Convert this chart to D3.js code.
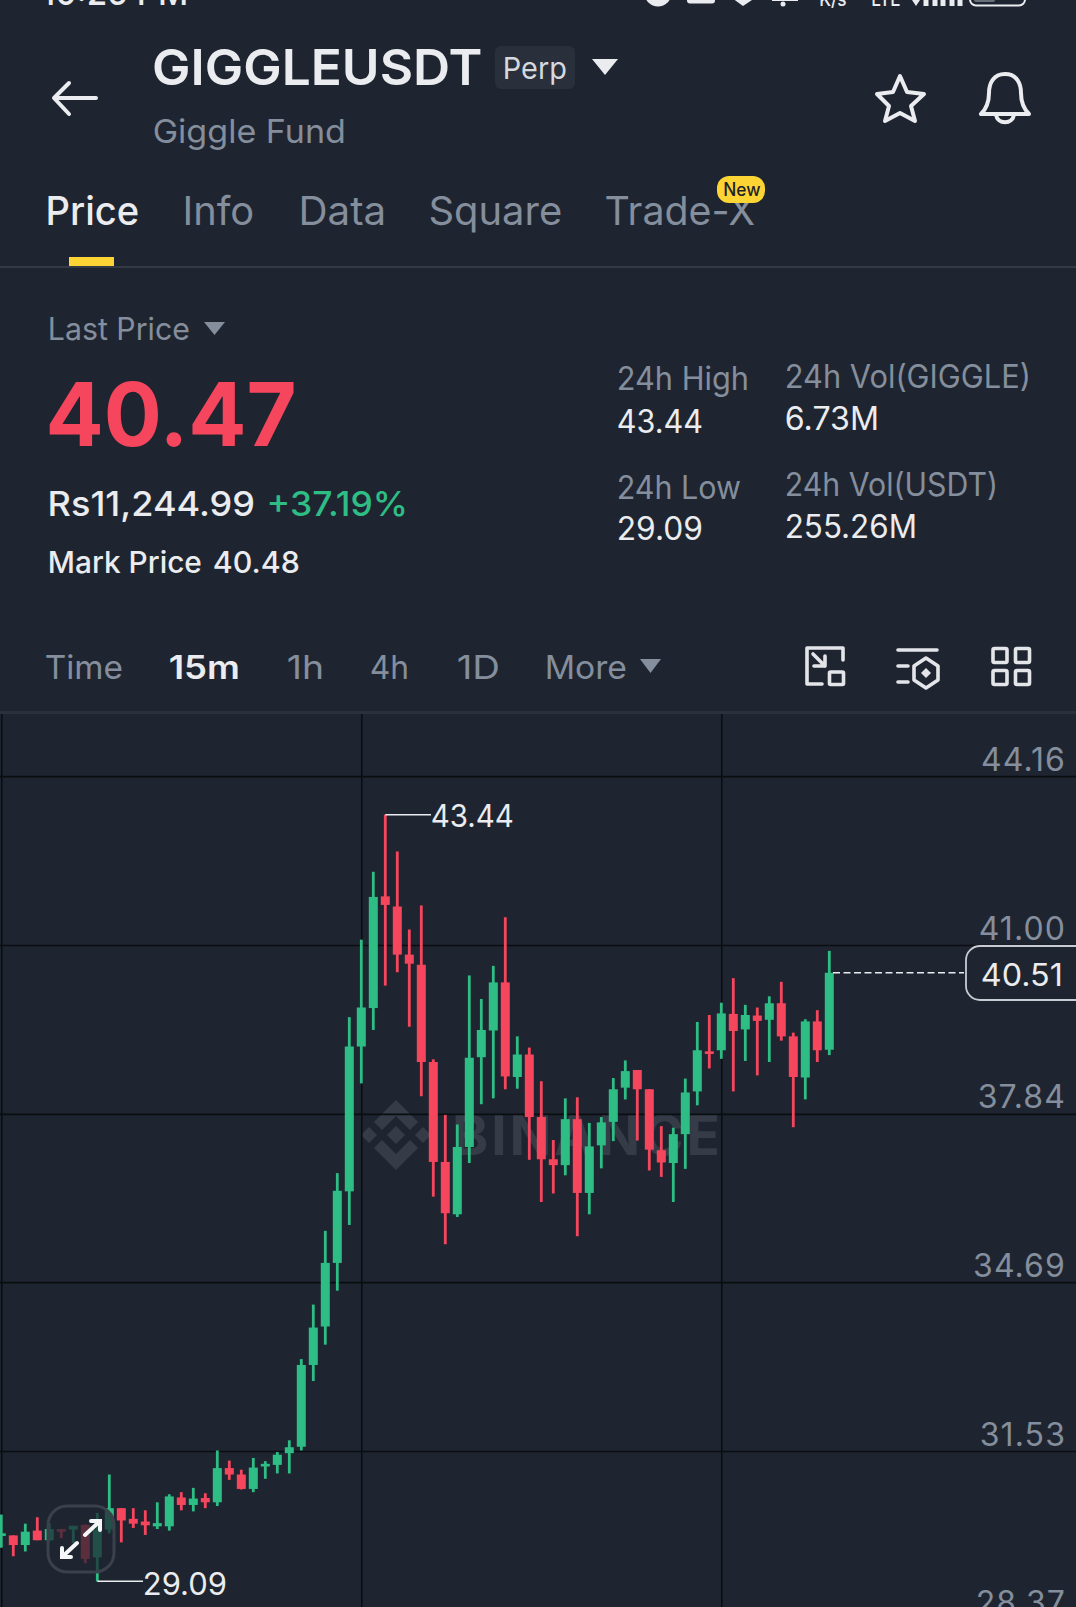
<!DOCTYPE html>
<html lang="en">
  <head>
    <meta charset="UTF-8" />
    <title>GIGGLEUSDT 15m</title>
    <script src="https://d3js.org/d3.v7.min.js"></script>
    <style>
      html, body { margin: 0; padding: 0; background: #1f2530; overflow: hidden; }
      svg { display: block; font-family: Inter, "Noto Sans", sans-serif; }
    </style>
  </head>
  <body>
    <script>
      // Candles, oldest first
      const opens = [29.94,29.95,29.77,30.04,29.86,30.07,30.06,30.15,29.54,30.06,30.46,30.26,30.21,30.12,30.12,30.66,30.52,30.65,30.57,31.21,31.09,30.82,31.24,31.27,31.49,31.61,33.14,33.86,35.05,36.39,39.10,39.82,41.91,41.72,40.82,40.63,38.81,36.94,35.96,37.22,38.90,39.40,40.30,38.53,38.95,37.78,36.99,36.88,37.74,36.36,37.25,37.69,38.33,38.66,38.30,37.16,36.92,37.46,38.26,39.01,39.03,39.71,39.42,39.68,39.60,39.91,39.29,38.52,39.57,39.04];
      const highs = [30.34,29.95,30.17,30.29,30.18,30.07,30.13,30.15,30.37,31.09,30.46,30.46,30.42,30.57,30.72,30.76,30.84,30.74,31.54,31.35,31.18,31.40,31.34,31.51,31.73,33.25,34.27,35.65,36.73,39.65,41.10,42.37,43.44,42.75,41.29,41.74,38.86,37.82,37.64,40.43,39.99,40.61,41.52,39.29,39.08,38.45,37.35,38.13,38.15,37.67,37.78,38.51,38.84,38.66,38.30,37.61,37.58,38.50,39.56,39.69,39.92,40.38,39.88,39.83,40.04,40.31,39.36,39.61,39.78,40.89];
      const lows = [29.72,29.56,29.65,29.86,29.84,29.90,29.81,29.43,29.09,29.99,29.82,30.09,29.96,30.07,30.04,30.42,30.40,30.46,30.50,30.99,30.81,30.76,31.01,31.11,31.11,31.54,32.84,33.52,34.53,35.76,38.41,39.41,40.24,40.49,39.47,38.17,36.29,35.40,35.91,36.92,38.02,38.13,38.30,38.31,36.98,36.19,36.35,36.69,35.55,35.96,36.82,37.33,38.11,37.34,36.78,36.66,36.19,36.81,38.00,38.69,38.87,38.26,38.83,38.56,38.81,39.21,37.59,38.11,38.81,38.94];
      const closes = [29.99,29.77,30.02,29.86,30.07,30.02,30.13,29.51,30.06,30.46,30.23,30.17,30.14,30.18,30.68,30.52,30.64,30.57,31.21,31.09,30.82,31.22,31.29,31.46,31.60,33.14,33.84,35.05,36.40,39.10,39.83,41.90,41.75,40.82,40.65,38.81,36.94,35.98,37.22,38.89,39.41,40.30,38.54,38.95,37.78,36.99,36.88,37.74,36.36,37.23,37.68,38.30,38.64,38.30,37.17,36.93,37.46,38.24,39.03,38.96,39.72,39.39,39.69,39.58,39.91,39.29,38.53,39.57,39.03,40.48];

      const priceTicks = [44.16, 41.0, 37.84, 34.69, 31.53, 28.37];
      const timeGridCandles = [0, 30, 60];
      const periodHigh = 43.44;
      const periodLow = 29.09;
      const lastPriceLabel = "40.51";

      const tabs = [["Price", 47, 138], ["Info", 184, 253], ["Data", 300, 385], ["Square", 430, 561], ["Trade-X", 606, 754]];
      const intervals = [["Time", 46, 122], ["15m", 170, 239], ["1h", 288, 323], ["4h", 371, 408], ["1D", 458, 499], ["More", 546, 626]];

      const BG = "#1f2530", UP = "#2ebd85", DOWN = "#f6465d", GREY = "#848e9c", WHITE = "#eaecef";

      const svg = d3.select("body").append("svg").attr("width", 1076).attr("height", 1607);
      svg.append("rect").attr("width", 1076).attr("height", 1607).attr("fill", BG);

      // Text helper, width forced so it lines up with the screenshot
      function label(str, x0, x1, base, size, color, weight) {
        const left = x0 - size * 0.04;
        const right = x1 + size * 0.03;
        return svg.append("text").attr("x", left).attr("y", base)
          .attr("font-size", size).attr("font-weight", weight || 400).attr("fill", color)
          .attr("textLength", right - left).attr("lengthAdjust", "spacingAndGlyphs").text(str);
      }
      function triangle(x0, x1, y0, y1, color) {
        svg.append("path").attr("fill", color)
          .attr("d", `M${x0},${y0}L${x1},${y0}L${(x0 + x1) / 2},${y1}Z`);
      }

      // Status bar, cut off by the top of the screenshot
      label("10:26 PM", 43, 187, 5, 36, WHITE, 500);
      svg.append("circle").attr("cx", 658).attr("cy", -7).attr("r", 13.5).attr("fill", WHITE);
      svg.append("rect").attr("x", 687).attr("y", -6).attr("width", 28).attr("height", 9.5).attr("rx", 3).attr("fill", WHITE);
      svg.append("path").attr("d", "M732,-2L755,-2L743,6Z").attr("fill", WHITE);
      svg.append("path").attr("d", "M772,0L798,0").attr("stroke", WHITE).attr("stroke-width", 2);
      svg.append("circle").attr("cx", 783).attr("cy", 4).attr("r", 2.5).attr("fill", WHITE);
      label("K/s", 820, 846, 6, 19, WHITE, 500);
      label("LTE", 872, 900, 6, 20, WHITE, 500);
      triangle(912, 920, 0, 6, WHITE);
      svg.append("path").attr("d", "M926,6V-6M935,6V-6M943,6V-6M952,6V-6M960,6V-6").attr("stroke", WHITE).attr("stroke-width", 5);
      svg.append("rect").attr("x", 970).attr("y", -20).attr("width", 55).attr("height", 25.5).attr("rx", 6)
        .attr("fill", "none").attr("stroke", WHITE).attr("stroke-width", 2);
      svg.append("rect").attr("x", 974).attr("y", -16).attr("width", 21).attr("height", 18).attr("rx", 2).attr("fill", "#6a707a");

      // Header
      svg.append("path").attr("fill", "none").attr("stroke", WHITE).attr("stroke-width", 4).attr("stroke-linecap", "round")
        .attr("stroke-linejoin", "round").attr("d", "M96,98H55M69,83L54,98L69,114");
      label("GIGGLEUSDT", 154, 481, 85, 50, WHITE, 600);
      svg.append("rect").attr("x", 495).attr("y", 46).attr("width", 80).attr("height", 43).attr("rx", 6).attr("fill", "#2a303b");
      label("Perp", 504, 566, 79, 30, "#d5d9df", 400);
      triangle(592, 618, 59, 75, WHITE);
      label("Giggle Fund", 154, 345, 143, 33, GREY, 400);
      // star and bell
      svg.append("path").attr("fill", "none").attr("stroke", WHITE).attr("stroke-width", 4).attr("stroke-linejoin", "round")
        .attr("d", "M900,76L907,92L924,94L911,106L915,121L900,113L885,121L889,106L877,94L893,92Z");
      svg.append("path").attr("fill", "none").attr("stroke", WHITE).attr("stroke-width", 4).attr("stroke-linejoin", "round")
        .attr("d", "M1005,74C993,74 989,84 989,93C989,103 986,109 981,114H1029C1024,109 1021,103 1021,93C1021,84 1017,74 1005,74ZM996,114C997,125 1013,125 1014,114");

      // Tabs
      tabs.forEach(([t, x0, x1], i) => label(t, x0, x1, 225, 39, i === 0 ? WHITE : GREY, i === 0 ? 500 : 400));
      svg.append("rect").attr("x", 717).attr("y", 176).attr("width", 48).attr("height", 27).attr("rx", 12).attr("fill", "#fcd535");
      label("New", 724, 760, 196, 18, "#1e2329", 500);
      svg.append("rect").attr("x", 69).attr("y", 257).attr("width", 45).attr("height", 9).attr("fill", "#fcd535");
      svg.append("rect").attr("x", 0).attr("y", 266).attr("width", 1076).attr("height", 2).attr("fill", "#333a46");

      // Price block
      label("Last Price", 49, 189, 340, 31, GREY, 400);
      triangle(204, 225, 322, 335, GREY);
      label("40.47", 49, 294, 446, 88, DOWN, 700);
      label("Rs11,244.99", 49, 254, 516, 34, WHITE, 500);
      label("+37.19%", 268, 407, 516, 34, UP, 500);
      label("Mark Price", 49, 201, 573, 30, WHITE, 500);
      label("40.48", 214, 299, 573, 30, WHITE, 500);
      label("24h High", 618, 748, 390, 32, GREY, 400);
      label("43.44", 618, 702, 433, 32, WHITE, 400);
      label("24h Low", 618, 740, 499, 32, GREY, 400);
      label("29.09", 618, 702, 540, 32, WHITE, 400);
      label("24h Vol(GIGGLE)", 786, 1030, 388, 32, GREY, 400);
      label("6.73M", 786, 878, 430, 32, WHITE, 400);
      label("24h Vol(USDT)", 786, 997, 496, 32, GREY, 400);
      label("255.26M", 786, 916, 538, 32, WHITE, 400);

      // Interval row
      intervals.forEach(([t, x0, x1]) => label(t, x0, x1, 679, 33, t === "15m" ? WHITE : GREY, t === "15m" ? 600 : 400));
      triangle(640, 661, 659, 673, GREY);
      const ICON = "#e3e5e9";
      const iconStyle = (p) => p.attr("fill", "none").attr("stroke", ICON).attr("stroke-width", 3.6).attr("stroke-linejoin", "round").attr("stroke-linecap", "round");
      iconStyle(svg.append("path")).attr("d", "M843,660V648H807V684H822M813,654L825,666M814,666H825V656");
      iconStyle(svg.append("rect")).attr("x", 829.5).attr("y", 672).attr("width", 14).attr("height", 12.5).attr("rx", 1);
      iconStyle(svg.append("path")).attr("d", "M898,650H937M898,666H908M898,682H908M926,658L938,666V680L926,688L914,680V666Z");
      svg.append("path").attr("d", "M926,668L931,673L926,678L921,673Z").attr("fill", ICON);
      [[993, 648.5], [1015.5, 648.5], [993, 670.5], [1015.5, 670.5]].forEach(([x, y]) => {
        iconStyle(svg.append("rect")).attr("x", x).attr("y", y).attr("width", 14).attr("height", 14).attr("rx", 1.5);
      });
      svg.append("rect").attr("x", 0).attr("y", 711).attr("width", 1076).attr("height", 3).attr("fill", "#2b313c");

      // Chart scales
      const x = d3.scaleLinear().domain([0, 69]).range([1.3, 829.3]);
      const y = d3.scaleLinear().domain([41, 31.53]).range([945, 1451]);
      const chart = svg.append("g");

      // Watermark sits under the grid and candles
      const mark = chart.append("g").attr("transform", "translate(396,1135)").attr("fill", "#363c47");
      mark.append("path").attr("d", "M0,-35L22,-13L14,-5L0,-19L-14,-5L-22,-13Z");
      mark.append("path").attr("d", "M0,35L22,13L14,5L0,19L-14,5L-22,13Z");
      mark.append("path").attr("d", "M0,-9L9,0L0,9L-9,0Z");
      mark.append("path").attr("d", "M27,-8L35,0L27,8L19,0Z");
      mark.append("path").attr("d", "M-27,-8L-19,0L-27,8L-35,0Z");
      chart.append("text").attr("x", 452).attr("y", 1155).attr("font-size", 55).attr("font-weight", 700)
        .attr("fill", "#363c47").attr("textLength", 268).text("BINANCE");

      // Grid
      const gridX = chart.append("g").attr("transform", "translate(0,1607)")
        .call(d3.axisBottom(x).tickValues(timeGridCandles).tickSize(-(1607 - 714)).tickFormat(""));
      const gridY = chart.append("g").attr("transform", "translate(1076,0)")
        .call(d3.axisLeft(y).tickValues(priceTicks).tickSize(1076).tickFormat(""));
      [gridX, gridY].forEach((g) => {
        g.select(".domain").remove();
        g.selectAll("line").attr("stroke", "#0b0e11").attr("stroke-width", 1.6);
      });

      // Candles
      const candles = chart.append("g").selectAll("g").data(d3.range(opens.length)).join("g")
        .attr("fill", (i) => (closes[i] >= opens[i] ? UP : DOWN));
      candles.append("rect").attr("x", (i) => x(i) - 1.4).attr("width", 2.8)
        .attr("y", (i) => y(highs[i])).attr("height", (i) => y(lows[i]) - y(highs[i]));
      candles.append("rect").attr("x", (i) => x(i) - 4.5).attr("width", 9)
        .attr("y", (i) => y(Math.max(opens[i], closes[i])))
        .attr("height", (i) => Math.max(2, Math.abs(y(opens[i]) - y(closes[i]))));

      // Price axis
      const axis = chart.append("g").attr("transform", "translate(1066,0)")
        .call(d3.axisRight(y).tickValues(priceTicks).tickSize(0).tickFormat((d) => d.toFixed(2)));
      axis.select(".domain").remove();
      axis.selectAll("text").attr("x", 0).attr("dy", -6).attr("text-anchor", "end")
        .attr("font-family", "Inter, sans-serif").attr("font-size", 32).attr("fill", GREY)
        .attr("dominant-baseline", "auto").attr("letter-spacing", 1.1);

      // High and low markers
      const hiIdx = highs.indexOf(periodHigh), loIdx = lows.indexOf(periodLow);
      chart.append("path").attr("stroke", WHITE).attr("stroke-width", 1.5).attr("fill", "none")
        .attr("d", `M${x(hiIdx)},${y(periodHigh)}H431`);
      label(periodHigh.toFixed(2), 432, 513, 827, 31, WHITE, 400);
      chart.append("path").attr("stroke", WHITE).attr("stroke-width", 1.5).attr("fill", "none")
        .attr("d", `M${x(loIdx)},${y(periodLow)}H143`);
      label(periodLow.toFixed(2), 144, 226, 1595, 31, WHITE, 400);

      // Last price tag
      const lastY = y(closes[closes.length - 1]);
      chart.append("line").attr("x1", 833).attr("x2", 964).attr("y1", lastY).attr("y2", lastY)
        .attr("stroke", WHITE).attr("stroke-width", 1.5).attr("stroke-dasharray", "7 3.5");
      chart.append("rect").attr("x", 966).attr("y", 946).attr("width", 130).attr("height", 54).attr("rx", 14)
        .attr("fill", BG).attr("stroke", "#c8ccd2").attr("stroke-width", 1.8);
      label(lastPriceLabel, 982, 1062, 986, 31, WHITE, 400);

      // Expand button over the first candles
      svg.append("rect").attr("x", 48).attr("y", 1506).attr("width", 66).attr("height", 66).attr("rx", 19)
        .attr("fill", BG).attr("fill-opacity", 0.72).attr("stroke", "#3a414c").attr("stroke-width", 3);
      svg.append("path").attr("fill", "none").attr("stroke", "#f5f6f7").attr("stroke-width", 4).attr("stroke-linecap", "round")
        .attr("d", "M85,1535L100,1521M91,1521H100V1530M77,1543L62,1557M62,1548V1557H71");
    </script>
  </body>
</html>
